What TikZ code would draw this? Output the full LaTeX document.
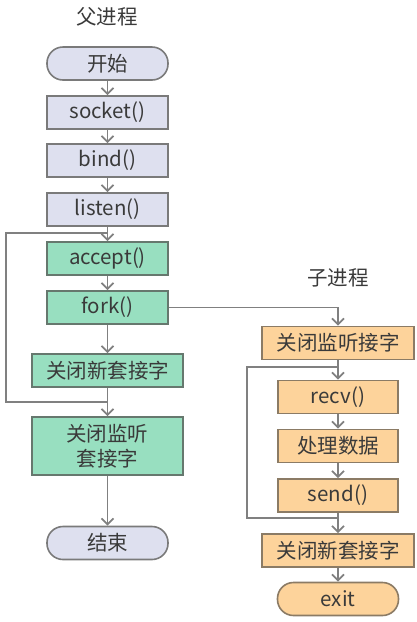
\documentclass[tikz,border=0pt]{standalone}
\usetikzlibrary{arrows.meta}
\usepackage{fontspec}
\setmainfont{Noto Sans CJK SC}
\definecolor{lav}{HTML}{DEE0EF}
\definecolor{lavb}{HTML}{7A7A7A}
\definecolor{grn}{HTML}{98DFC0}
\definecolor{grnb}{HTML}{66786E}
\definecolor{org}{HTML}{FDD39B}
\definecolor{orgb}{HTML}{8B7B65}
\definecolor{ln}{HTML}{808080}
\definecolor{txt}{HTML}{3A3A3A}
\tikzset{
  base/.style={draw, line width=1.6pt, minimum height=33pt, inner sep=0pt, text=txt,
    font=\fontsize{20.5}{25}\selectfont, align=center},
  term/.style={base, fill=lav, draw=lavb, rounded corners=16pt, minimum width=121pt},
  lbox/.style={base, fill=lav, draw=lavb, minimum width=121pt},
  gbox/.style={base, fill=grn, draw=grnb, minimum width=121pt},
  gwide/.style={base, fill=grn, draw=grnb, minimum width=151pt},
  obox/.style={base, fill=org, draw=orgb, minimum width=120pt},
  owide/.style={base, fill=org, draw=orgb, minimum width=152pt},
  oterm/.style={base, fill=org, draw=orgb, rounded corners=16pt, minimum width=121pt},
  title/.style={text=txt, font=\fontsize{20.5}{25}\selectfont, inner sep=0pt},
  conn/.style={draw=ln, line width=1.6pt, -{Straight Barb[length=6pt,width=12pt,line width=1.8pt]}},
  plain/.style={draw=ln, line width=1.6pt}
}
\begin{document}
\begin{tikzpicture}[x=1pt,y=-1pt]
\useasboundingbox (0,0) rectangle (417,622);
\node[title] (t1) at (107,17) {父进程};
\node[term] (start) at (107.5,63.5) {开始};
\node[lbox] (socket) at (107.5,112.5) {socket()};
\node[lbox] (bind) at (107.5,160.5) {bind()};
\node[lbox] (listen) at (107.5,209.5) {listen()};
\node[gbox] (accept) at (107.5,258.5) {accept()};
\node[gbox] (fork) at (107.5,307.5) {fork()};
\node[gwide] (closenew) at (107.5,370.5) {关闭新套接字};
\node[gwide, minimum height=58pt] (closelisten) at (107.5,446) {关闭监听\\套接字};
\node[term] (end) at (107.5,543) {结束};

\node[title] (t2) at (338,278) {子进程};
\node[owide] (cclose) at (338,343) {关闭监听接字};
\node[obox] (recv) at (338,397) {recv()};
\node[obox] (proc) at (338,446) {处理数据};
\node[obox] (send) at (338,495.5) {send()};
\node[owide] (cclosenew) at (338,550.5) {关闭新套接字};
\node[oterm] (exit) at (338,599) {exit};

\coordinate (j1) at (107.5,233);
\coordinate (j2) at (107.5,402);
\coordinate (j3) at (338,367);
\coordinate (j4) at (338,518);

\draw[conn] (start) -- (socket);
\draw[conn] (socket) -- (bind);
\draw[conn] (bind) -- (listen);
\draw[conn] (listen) -- (accept);
\draw[conn] (accept) -- (fork);
\draw[conn] (fork) -- (closenew);
\draw[conn] (closenew) -- (closelisten);
\draw[conn] (closelisten) -- (end);
\draw[plain] (j2) -- (6,402) -- (6,233) -- (j1);
\draw[conn] (fork.east) -| (cclose.north);
\draw[conn] (cclose) -- (recv);
\draw[conn] (recv) -- (proc);
\draw[conn] (proc) -- (send);
\draw[conn] (send) -- (cclosenew);
\draw[conn] (cclosenew) -- (exit);
\draw[plain] (j4) -- (247,518) -- (247,367) -- (j3);
\end{tikzpicture}
\end{document}
